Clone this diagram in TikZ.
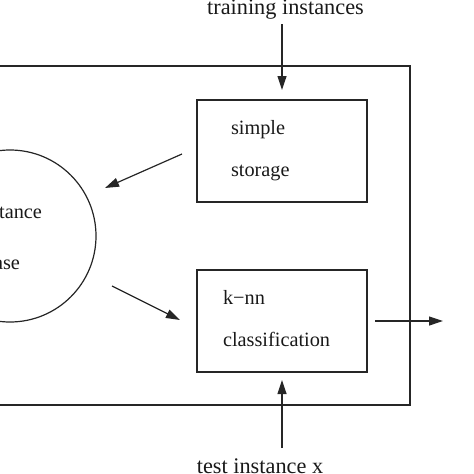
\documentclass[tikz,border=0pt]{standalone}
\usepackage{fontspec}
\setmainfont{Liberation Serif}
\usetikzlibrary{arrows.meta}
\begin{document}
\begin{tikzpicture}[x=1pt,y=-1pt,
  line width=1.2pt, draw=black!85,
  lbl/.style={font=\fontsize{22.3}{26}\selectfont, inner sep=0pt, outer sep=0pt, text=black!90},
  inlbl/.style={lbl, font=\fontsize{20.3}{24}\selectfont},
  boxshape/.style={draw, rectangle, inner sep=0pt, outer sep=0pt},
  conn/.style={-{Triangle[length=14pt,width=9pt]}}
]
\useasboundingbox (0,0) rectangle (474,474);
\clip (0,0) rectangle (474,474);
% outer frame
\node[boxshape, minimum width=550pt, minimum height=339pt] (frame) at (135,235.5) {};
% inner boxes
\node[boxshape, minimum width=170pt, minimum height=102pt] (storage) at (282,151) {};
\node[boxshape, minimum width=170pt, minimum height=102pt] (knn) at (282,321) {};
% circle
\node[draw, circle, inner sep=0pt, outer sep=0pt, minimum size=172pt] (base) at (10,236) {};
% texts
\node[lbl, anchor=base] (train) at (285.5,14) {training instances};
\node[lbl, anchor=base] (test) at (260,473) {test instance x};
\node[inlbl, anchor=base west] (simple) at (231,134) {simple};
\node[inlbl, anchor=base west] (storagetxt) at (231,176) {storage};
\node[inlbl, anchor=base west] (knntxt) at (223,304) {k\textminus nn};
\node[inlbl, anchor=base west] (classtxt) at (223,346) {classification};
\node[inlbl, anchor=base east] (insttxt) at (42,218) {instance};
\node[inlbl, anchor=base east] (basetxt) at (20,269) {base};
% connector end points
\coordinate (trainend) at (282,24);
\coordinate (trainin) at (282,90);
\coordinate (testend) at (282,448);
\coordinate (testin) at (282,380);
\coordinate (stout) at (182,154);
\coordinate (basein) at (105,188);
\coordinate (baseout) at (112,286);
\coordinate (knnin) at (180,320);
\coordinate (knnout) at (375,321);
\coordinate (result) at (443,321);
% connectors
\draw[conn] (trainend) -- (trainin);
\draw[conn] (testend) -- (testin);
\draw[conn] (stout) -- (basein);
\draw[conn] (baseout) -- (knnin);
\draw[conn] (knnout) -- (result);
\end{tikzpicture}
\end{document}
